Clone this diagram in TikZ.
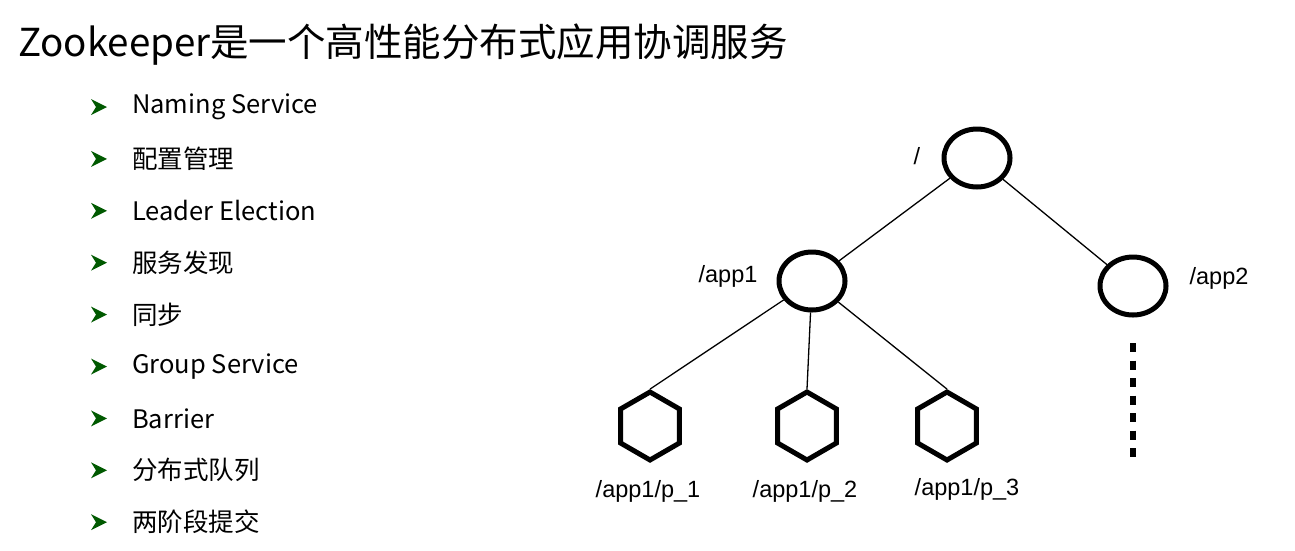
\documentclass[tikz,border=0pt]{standalone}
\usepackage{fontspec}
\setmainfont{Noto Sans CJK SC}
\newfontfamily\arial{Liberation Sans}
\usetikzlibrary{shapes.geometric}
\begin{document}
\begin{tikzpicture}[x=1pt,y=-1pt,
  zn/.style={draw,line width=5pt,ellipse,minimum width=66pt,minimum height=58pt,inner sep=0pt},
  hx/.style={draw,line width=5pt,regular polygon,regular polygon sides=6,shape border rotate=30,minimum size=68pt,inner sep=0pt},
  lbl/.style={font=\arial\fontsize{23.5}{27}\selectfont,inner sep=0pt},
  itm/.style={anchor=west,font=\fontsize{25.5}{29}\selectfont,inner sep=0pt},
  edge/.style={line width=1.3pt}]
\path[use as bounding box] (0,0) rectangle (1295,550);
\node[anchor=west,inner sep=0pt,font=\fontsize{38.5}{42}\selectfont] (title) at (18,45) {Zookeeper是一个高性能分布式应用协调服务};
\foreach \t [count=\i] in {Naming Service,配置管理,Leader Election,服务发现,同步,Group Service,Barrier,分布式队列,两阶段提交}{
  \pgfmathsetmacro\yy{107+(\i-1)*51.9}
  \fill[green!35!black] (91,\yy-8) -- (107,\yy) -- (91,\yy+8) -- (96,\yy) -- cycle;
  \node[itm] (b\i) at (132,\yy) {\t};
}
\node[zn] (root) at (977,158) {};
\node[zn] (app1) at (812,281) {};
\node[zn] (app2) at (1133,286) {};
\node[hx] (p1) at (650,426) {};
\node[hx] (p2) at (807,426) {};
\node[hx] (p3) at (947,426) {};
\draw[edge] (root) -- (app1);
\draw[edge] (root) -- (app2);
\draw[edge] (app1) -- (p1.corner 1);
\draw[edge] (app1) -- (p2.corner 1);
\draw[edge] (app1) -- (p3.corner 1);
\coordinate (d1) at (1133,343);
\coordinate (d2) at (1133,463);
\draw[line width=6pt,dash pattern=on 9pt off 8.5pt] (d1) -- (d2);
\node[lbl] (lr) at (917,156) {/};
\node[lbl] (la1) at (728,276) {/app1};
\node[lbl] (la2) at (1219,278) {/app2};
\node[lbl] (lp1) at (648,491) {/app1/p\_1};
\node[lbl] (lp2) at (805,491) {/app1/p\_2};
\node[lbl] (lp3) at (967,489) {/app1/p\_3};
\end{tikzpicture}
\end{document}
